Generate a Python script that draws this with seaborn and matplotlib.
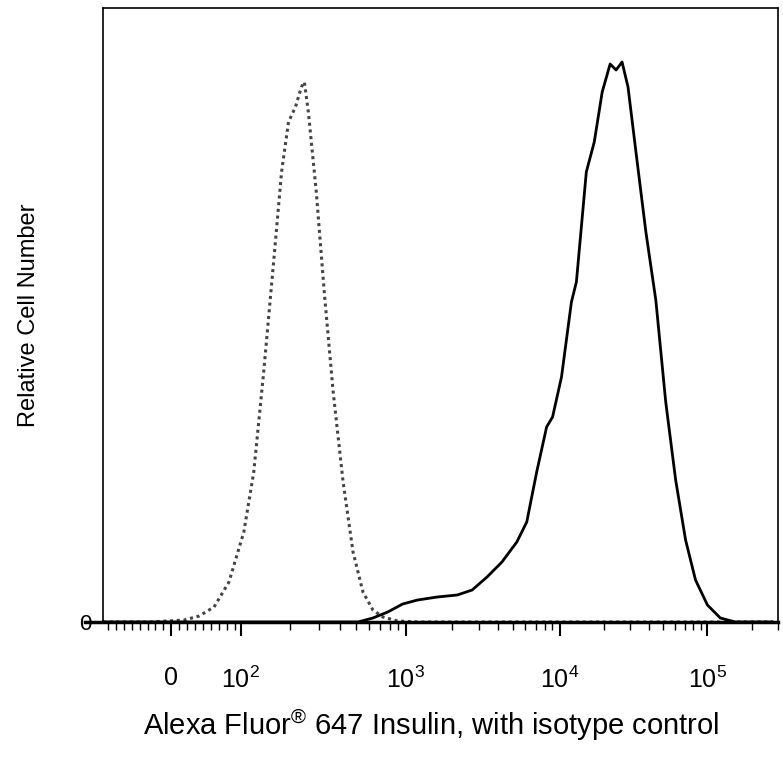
import numpy as np
import pandas as pd
import matplotlib
matplotlib.use('Agg')
import matplotlib.pyplot as plt
import seaborn as sns

# x in display channel units, height in relative counts
iso_x = [103, 150, 185, 200, 215, 230, 245, 255, 265, 275, 283, 290, 297, 303, 306,
         310, 318, 326, 335, 345, 355, 365, 375, 385, 400, 420, 778]
iso_y = [0, 0, 2, 6, 15, 40, 90, 150, 250, 360, 450, 500, 515, 535, 540,
         510, 430, 330, 230, 140, 70, 30, 12, 5, 1, 0, 0]
ins_x = [103, 360, 375, 390, 405, 420, 440, 460, 475, 490, 505, 520, 530, 540, 550,
         556, 565, 575, 580, 590, 598, 606, 614, 620, 626, 632, 640, 650, 660, 670,
         680, 690, 700, 712, 725, 740, 778]
ins_y = [0, 0, 4, 10, 18, 22, 25, 27, 32, 45, 60, 80, 100, 150, 195,
         205, 245, 320, 340, 450, 480, 530, 558, 552, 560, 535, 470, 390, 322, 220,
         142, 82, 42, 17, 4, 0, 0]
major_pos = [172, 242, 408, 563, 712]
major_lab = ['0', '$10^2$', '$10^3$', '$10^4$', '$10^5$']

sns.set_style('white')
plt.rcParams['font.family'] = ['Liberation Sans', 'DejaVu Sans']
plt.rcParams['mathtext.fontset'] = 'custom'
plt.rcParams['mathtext.rm'] = 'Liberation Sans'
plt.rcParams['text.color'] = 'black'
plt.rcParams['xtick.color'] = 'black'
plt.rcParams['ytick.color'] = 'black'
plt.rcParams['axes.labelcolor'] = 'black'

fig = plt.figure(figsize=(7.83, 7.58), dpi=100)
ax = fig.add_axes([85/783, 136/758, 693/783, 614/758])

sns.lineplot(x=iso_x, y=iso_y, ax=ax, sort=False, color='#444444', lw=2.2,
             linestyle=(0, (1, 1.2)))
sns.lineplot(x=ins_x, y=ins_y, ax=ax, sort=False, color='black', lw=2)

ax.set_xlim(85, 778)
ax.set_ylim(0, 614)
ax.spines['left'].set_position(('data', 103))
ax.spines['top'].set_visible(False)
ax.axhline(614, xmin=(103-85)/(778-85), xmax=1, color='black', lw=1.2, clip_on=False)
for s in ['left', 'right']:
    ax.spines[s].set_color('black')
    ax.spines[s].set_linewidth(1.2)
ax.spines['bottom'].set_color('black')
ax.spines['bottom'].set_linewidth(2.5)

minor = list(np.arange(108, 242, 8))
for a, b in [(242, 408), (408, 563), (563, 712)]:
    minor += [a + (b - a) * np.log10(k) for k in range(2, 10)]
minor += [712 + 149 * np.log10(k) for k in range(2, 4)]
ax.set_xticks(major_pos)
ax.set_xticklabels(major_lab, fontsize=18)
ax.set_xticks(minor, minor=True)
ax.tick_params(axis='x', which='major', direction='out', length=10, width=1.5, pad=22,
               bottom=True)
ax.tick_params(axis='x', which='minor', direction='out', length=6, width=1, bottom=True)
ax.set_yticks([0])
ax.set_yticklabels(['0'], fontsize=16)
ax.tick_params(axis='y', length=0, pad=8)

ax.set_xlabel('Alexa Fluor$^{®}$ 647 Insulin, with isotype control', fontsize=21, labelpad=10)
ax.set_ylabel('Relative Cell Number', fontsize=17, labelpad=28)

fig.savefig('out.png', dpi=100)
